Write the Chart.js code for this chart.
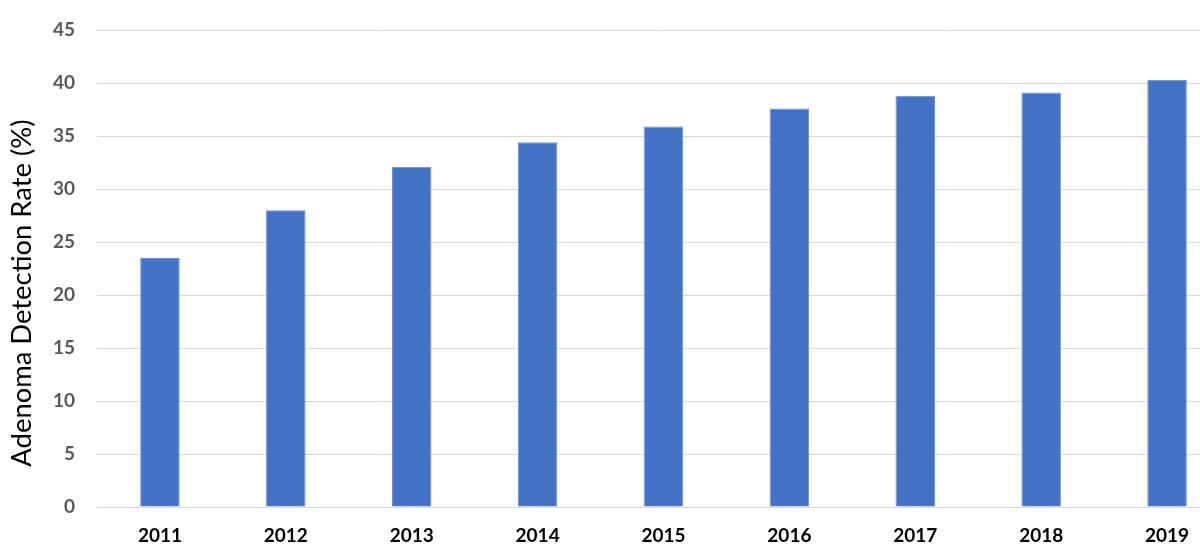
<!DOCTYPE html>
<html>
<head>
<meta charset="utf-8">
<script src="https://cdn.jsdelivr.net/npm/chart.js@4"></script>
<style>
    html, body { margin: 0; padding: 0; background: #fff; overflow: hidden; }
    #wrap { width: 1200px; height: 557px; overflow: hidden; }
    #box { width: 1230px; height: 557px; }
</style>
</head>
<body>
<div id="wrap"><div id="box"><canvas id="adrChart"></canvas></div></div>
<script>
// years and adenoma detection rate (%)
const years = ['2011', '2012', '2013', '2014', '2015', '2016', '2017', '2018', '2019'];
const adrValues = [23.5, 28.0, 32.1, 34.4, 35.9, 37.6, 38.8, 39.1, 40.3];
const yTicks = [0, 5, 10, 15, 20, 25, 30, 35, 40, 45];

const ctx = document.getElementById('adrChart').getContext('2d');

// title sits a bit below the middle of the axis in the original, pad the end
const yTitle = 'Adenoma Detection Rate (%)' + '\u00a0'.repeat(7);

new Chart(ctx, {
    type: 'bar',
    data: {
        labels: years,
        datasets: [{
            data: adrValues,
            backgroundColor: '#4472c4',
            borderColor: '#6b8fd4',
            borderWidth: 1,
            categoryPercentage: 1,
            barPercentage: 0.314
        }]
    },
    options: {
        responsive: true,
        maintainAspectRatio: false,
        animation: false,
        layout: { padding: { top: 30, left: 6, right: 0, bottom: 0 } },
        plugins: {
            legend: { display: false },
            tooltip: { enabled: false }
        },
        scales: {
            x: {
                grid: { display: false },
                border: { color: '#d9d9d9', width: 1 },
                ticks: {
                    color: '#000',
                    padding: 9,
                    font: { family: 'Lato', size: 19, weight: 'bold' }
                },
                afterFit: function(scale) { scale.height = 50; }
            },
            y: {
                min: 0,
                max: 45,
                afterBuildTicks: function(scale) {
                    scale.ticks = yTicks.map(v => ({ value: v }));
                },
                grid: { color: '#d9d9d9', lineWidth: 1, drawTicks: false },
                border: { display: false },
                ticks: {
                    color: '#595959',
                    padding: 22,
                    font: { family: 'Lato', size: 19, weight: 'bold' }
                },
                title: {
                    display: true,
                    text: yTitle,
                    color: '#000',
                    padding: { top: 0, bottom: 8 },
                    font: { family: 'Lato', size: 27.4 }
                },
                afterFit: function(scale) {
                    scale.width = 91;
                    scale.paddingTop = 0;
                    scale.paddingBottom = 0;
                }
            }
        }
    }
});
</script>
</body>
</html>
